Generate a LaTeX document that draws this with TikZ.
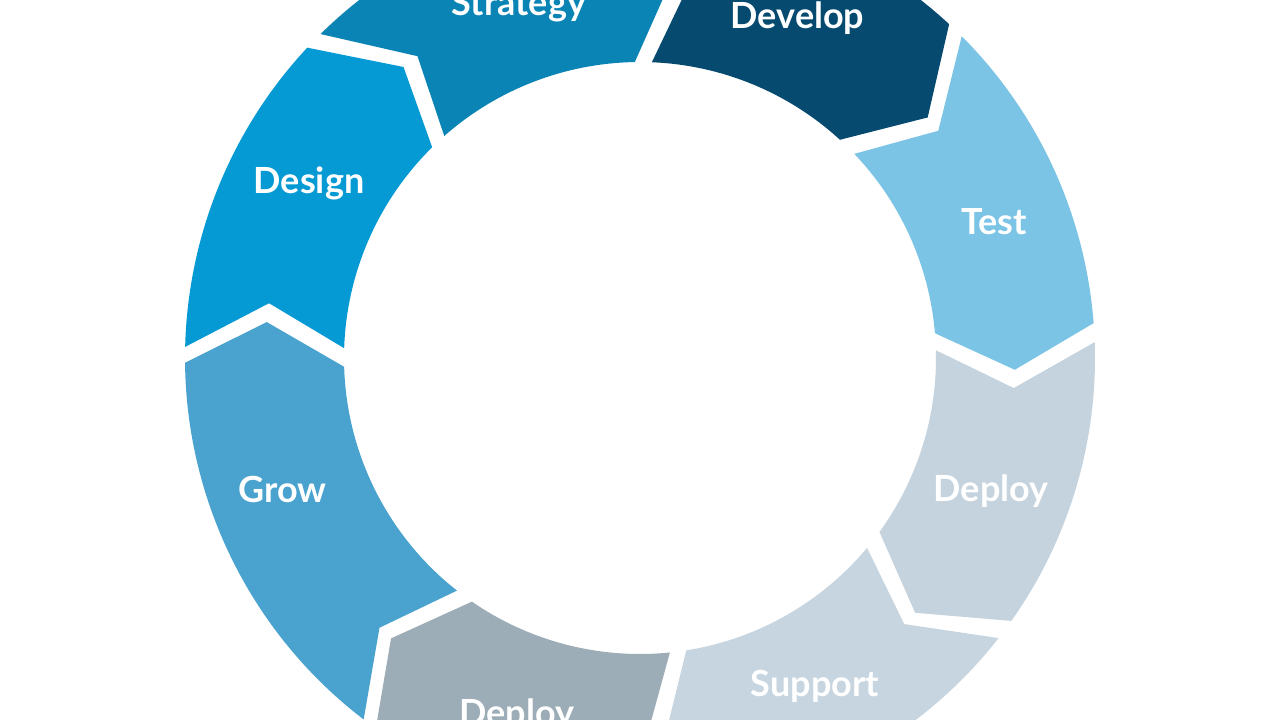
\documentclass[tikz,border=0pt]{standalone}
\usepackage{fontspec}
\setmainfont{Lato}
\definecolor{strategyc}{HTML}{0A84B5}
\definecolor{developc}{HTML}{064B6F}
\definecolor{testc}{HTML}{7BC4E6}
\definecolor{deployc}{HTML}{C5D3DE}
\definecolor{supportc}{HTML}{C7D5E0}
\definecolor{deploybc}{HTML}{9CADB7}
\definecolor{growc}{HTML}{4AA3CF}
\definecolor{designc}{HTML}{069AD4}
\newcommand{\Ro}{455pt}
\newcommand{\Rm}{375pt}
\newcommand{\Ri}{296pt}
% #1 colour, #2-#4 first edge (outer, tip, inner), #5-#7 last edge (outer, tip, inner)
\newcommand{\arrowseg}[7]{%
  \fill[#1] (#2:\Ro) arc[start angle=#2, end angle=#5, radius=\Ro]
    -- (#6:\Rm) -- (#7:\Ri) arc[start angle=#7, end angle=#4, radius=\Ri]
    -- (#3:\Rm) -- cycle;}
\tikzset{lbl/.style={anchor=base, text=white,
    font=\bfseries\fontsize{36}{36}\selectfont}}

\begin{document}
\begin{tikzpicture}[x=1pt,y=1pt]
  \clip (-640,-362) rectangle (640,358);
  \fill[white] (-640,-362) rectangle (640,358);

  \arrowseg{strategyc}{134.6}{126.4}{131.4}{82}{85.5}{91}
  \arrowseg{developc}{79.3}{82.6}{87.7}{47.2}{39.9}{47.5}
  \arrowseg{testc}{45}{37.3}{43.6}{4.4}{-1.8}{4.8}
  \arrowseg{deployc}{2}{-4.6}{1.5}{-35.3}{-42.8}{-36}
  \arrowseg{supportc}{-38}{-45.2}{-39.9}{-89.5}{-86}{-81}
  \arrowseg{deploybc}{-91.8}{-88.8}{-84.2}{-125.5}{-131.6}{-124.6}
  \arrowseg{growc}{-127.4}{-134}{-128.2}{-179.4}{-185.5}{-178.3}
  \arrowseg{designc}{178.6}{171.6}{178.1}{137}{129.1}{134.6}

  \node[lbl] (strategy) at (-121,342)    {Strategy};
  \node[lbl] (develop)  at (157.5,329.7) {Develop};
  \node[lbl] (test)     at (354,123)     {Test};
  \node[lbl] (deployA)  at (351,-143.7)  {Deploy};
  \node[lbl] (support)  at (175,-338.7)  {Support};
  \node[lbl] (deployB)  at (-123.3,-367) {Deploy};
  \node[lbl] (grow)     at (-357.5,-144.7) {Grow};
  \node[lbl] (design)   at (-331,164.7)  {Design};
\end{tikzpicture}
\end{document}
